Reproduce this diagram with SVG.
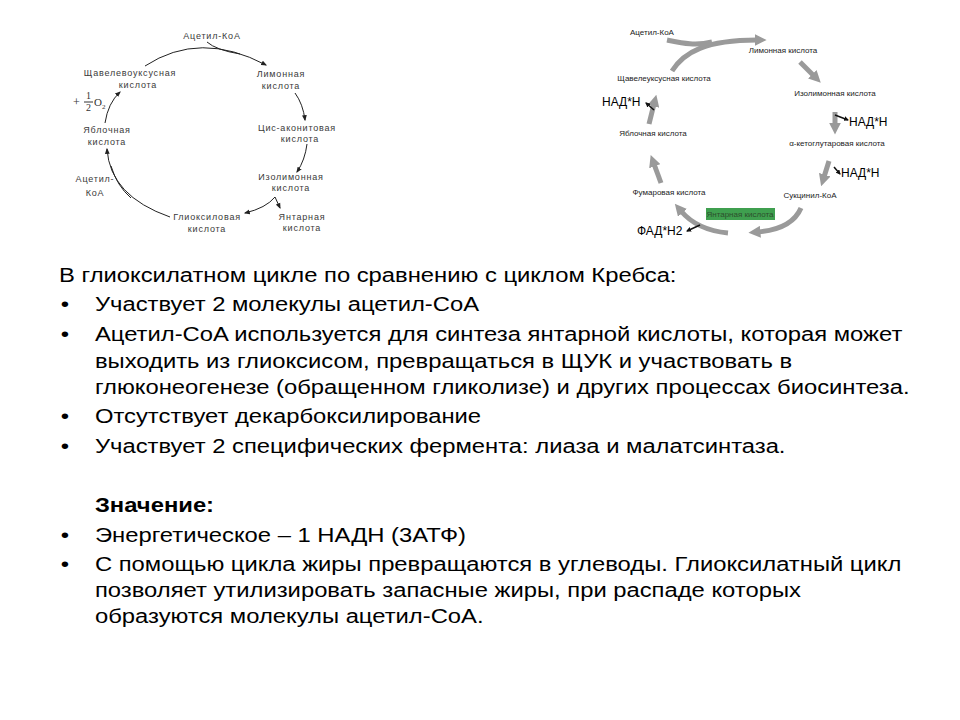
<svg xmlns="http://www.w3.org/2000/svg" width="960" height="720" viewBox="0 0 960 720">
<style>
.body{font-family:"Liberation Sans",Arial,sans-serif;font-size:20px;fill:#000}
.bold{font-weight:bold}
.lt{font-family:"Liberation Sans",Arial,sans-serif;font-size:9px;fill:#3a3a3a;text-anchor:middle;letter-spacing:0.8px}
.rt{font-family:"Liberation Sans",Arial,sans-serif;font-size:8px;fill:#222;text-anchor:middle}
.big{font-family:"Liberation Sans",Arial,sans-serif;font-size:12px;fill:#000}
.ll{fill:none;stroke:#222;stroke-width:1}
.gl{fill:none;stroke:#9a9a9a;stroke-width:5}
.bl{fill:none;stroke:#111;stroke-width:1.5}
</style>
<defs>
<marker id="ah" viewBox="0 0 10 10" refX="8" refY="5" markerWidth="6" markerHeight="6" markerUnits="userSpaceOnUse" orient="auto"><path d="M0,1 L10,5 L0,9 z" fill="#222"/></marker>
<marker id="gh" viewBox="0 0 10 10" refX="2" refY="5" markerWidth="12" markerHeight="12" markerUnits="userSpaceOnUse" orient="auto"><path d="M0,0 L10,5 L0,10 z" fill="#9a9a9a"/></marker>
<marker id="bh" viewBox="0 0 10 10" refX="8" refY="5" markerWidth="5" markerHeight="5" markerUnits="userSpaceOnUse" orient="auto"><path d="M0,0 L10,5 L0,10 z" fill="#111"/></marker>
</defs>
<rect width="960" height="720" fill="#fff"/>

<!-- Left diagram: glyoxylate cycle -->
<g id="left-connectors">
<path class="ll" d="M145,66 Q200,30 266,65" marker-end="url(#ah)"/>
<path class="ll" d="M207,42 Q216,50 240,54"/>
<path class="ll" d="M295,93 Q303,104 305,120" marker-end="url(#ah)"/>
<path class="ll" d="M307,144 Q305,160 297,172" marker-end="url(#ah)"/>
<path class="ll" d="M275,197 Q266,208 245,213" marker-end="url(#ah)"/>
<path class="ll" d="M275,197 L280,208" marker-end="url(#ah)"/>
<path class="ll" d="M170,217 Q110,196 107,149" marker-end="url(#ah)"/>
<path class="ll" d="M111,166 Q117,186 131,198"/>
<path class="ll" d="M105,123 Q108,103 120,92" marker-end="url(#ah)"/>
</g>
<g id="l-acetyl-top"><text class="lt" x="212" y="39">Ацетил-КоА</text></g>
<g id="l-citrate"><text class="lt" x="281" y="77">Лимонная</text><text class="lt" x="281" y="89">кислота</text></g>
<g id="l-cisaconitate"><text class="lt" x="297" y="131">Цис-аконитовая</text><text class="lt" x="300" y="142">кислота</text></g>
<g id="l-isocitrate"><text class="lt" x="291" y="180">Изолимонная</text><text class="lt" x="291" y="191">кислота</text></g>
<g id="l-succinate"><text class="lt" x="302" y="220">Янтарная</text><text class="lt" x="302" y="231">кислота</text></g>
<g id="l-glyoxylate"><text class="lt" x="207" y="220">Глиоксиловая</text><text class="lt" x="207" y="232">кислота</text></g>
<g id="l-acetyl-left"><text class="lt" x="95" y="182">Ацетил-</text><text class="lt" x="95" y="196">КоА</text></g>
<g id="l-malate"><text class="lt" x="107" y="133">Яблочная</text><text class="lt" x="107" y="145">кислота</text></g>
<g id="l-oxaloacetate"><text class="lt" x="130" y="76">Щавелевоуксусная</text><text class="lt" x="138" y="88">кислота</text></g>
<g id="l-oxygen">
<text x="73" y="106" style="font-family:'Liberation Serif',serif;font-size:12px;fill:#333">+</text>
<text x="86" y="99" style="font-family:'Liberation Serif',serif;font-size:10px;fill:#333">1</text>
<line x1="84" y1="102" x2="93" y2="102" stroke="#333" stroke-width="1"/>
<text x="86" y="111" style="font-family:'Liberation Serif',serif;font-size:10px;fill:#333">2</text>
<text x="94" y="106" style="font-family:'Liberation Serif',serif;font-size:11px;fill:#333">O</text>
<text x="102" y="109" style="font-family:'Liberation Serif',serif;font-size:7px;fill:#333">2</text>
</g>

<!-- Right diagram: Krebs cycle -->
<g id="right-connectors">
<path class="gl" d="M672,71 C684,52 706,40 757,40" marker-end="url(#gh)"/>
<path class="gl" d="M667,40 C682,43 695,46 712,42"/>
<path class="gl" d="M800,62 L814,76" marker-end="url(#gh)"/>
<path class="gl" d="M835,112 L835,125" marker-end="url(#gh)"/>
<path class="gl" d="M829,161 L824,177" marker-end="url(#gh)"/>
<path class="gl" d="M801,208 Q792,229 758,232" marker-end="url(#gh)"/>
<path class="gl" d="M728,233 Q697,230 681,211" marker-end="url(#gh)"/>
<path class="gl" d="M661,183 L654,164" marker-end="url(#gh)"/>
<path class="gl" d="M649,124 L654,104" marker-end="url(#gh)"/>
<path class="bl" d="M654,110 L646,103" marker-end="url(#bh)"/>
<path class="bl" d="M835,115 L848,120" marker-end="url(#bh)"/>
<path class="bl" d="M834,167 L840,174" marker-end="url(#bh)"/>
<path class="bl" d="M700,225 L687,231" marker-end="url(#bh)"/>
</g>
<g id="r-acetyl"><text class="rt" x="652" y="35">Ацетил-КоА</text></g>
<g id="r-citrate"><text class="rt" x="783" y="53">Лимонная кислота</text></g>
<g id="r-isocitrate"><text class="rt" x="835" y="96">Изолимонная кислота</text></g>
<g id="r-nadh1"><text class="big" x="849" y="126">НАД*Н</text></g>
<g id="r-akg"><text class="rt" x="837" y="146">α-кетоглутаровая кислота</text></g>
<g id="r-nadh2"><text class="big" x="841" y="177">НАД*Н</text></g>
<g id="r-succoa"><text class="rt" x="810" y="198">Сукцинил-КоА</text></g>
<g id="r-succinate"><rect x="706" y="208" width="69" height="12" fill="#3f9f4f"/><text class="rt" x="740" y="217" style="fill:#2c4f2c">Янтарная кислота</text></g>
<g id="r-fadh2"><text class="big" x="637" y="235">ФАД*Н2</text></g>
<g id="r-fumarate"><text class="rt" x="669" y="195">Фумаровая кислота</text></g>
<g id="r-malate"><text class="rt" x="653" y="136">Яблочная кислота</text></g>
<g id="r-nadh3"><text class="big" x="602" y="106">НАД*Н</text></g>
<g id="r-oxaloacetate"><text class="rt" x="664" y="81">Щавелеуксусная кислота</text></g>

<!-- Body text -->
<g id="body" transform="scale(1.19,1)">
<text class="body" x="49.6" y="282">В глиоксилатном цикле по сравнению с циклом Кребса:</text>
<text class="body" x="51" y="311">•</text><text class="body" x="79.8" y="311">Участвует 2 молекулы ацетил-CoA</text>
<text class="body" x="51" y="341">•</text><text class="body" x="79.8" y="341">Ацетил-CoA используется для синтеза янтарной кислоты, которая может</text>
<text class="body" x="79.8" y="368">выходить из глиоксисом, превращаться в ЩУК и участвовать в</text>
<text class="body" x="79.8" y="394">глюконеогенезе (обращенном гликолизе) и других процессах биосинтеза.</text>
<text class="body" x="51" y="423">•</text><text class="body" x="79.8" y="423">Отсутствует декарбоксилирование</text>
<text class="body" x="51" y="453">•</text><text class="body" x="79.8" y="453">Участвует 2 специфических фермента: лиаза и малатсинтаза.</text>
<text class="body bold" x="79.8" y="512">Значение:</text>
<text class="body" x="51" y="542">•</text><text class="body" x="79.8" y="542">Энергетическое – 1 НАДН (3АТФ)</text>
<text class="body" x="51" y="571">•</text><text class="body" x="79.8" y="571">С помощью цикла жиры превращаются в углеводы. Глиоксилатный цикл</text>
<text class="body" x="79.8" y="597">позволяет утилизировать запасные жиры, при распаде которых</text>
<text class="body" x="79.8" y="623">образуются молекулы ацетил-CoA.</text>
</g>
</svg>
